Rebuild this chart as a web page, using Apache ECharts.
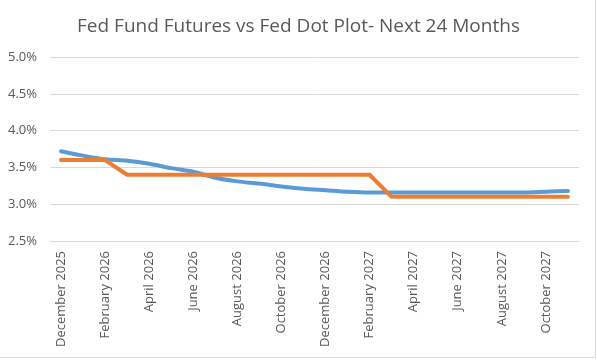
<!DOCTYPE html>
<html>
<head>
<meta charset="utf-8">
<script src="https://cdn.jsdelivr.net/npm/echarts@6/dist/echarts.min.js"></script>
<style>
html,body{margin:0;padding:0;background:#fff;}
#chart{width:597px;height:362px;}
</style>
</head>
<body>
<div id="chart"></div>
<script>
const titleText = 'Fed Fund Futures vs Fed Dot Plot- Next 24 Months';
const months = [
  'December 2025','January 2026','February 2026','March 2026','April 2026','May 2026',
  'June 2026','July 2026','August 2026','September 2026','October 2026','November 2026',
  'December 2026','January 2027','February 2027','March 2027','April 2027','May 2027',
  'June 2027','July 2027','August 2027','September 2027','October 2027','November 2027'
];
const fedFundFutures = [
  3.72, 3.66, 3.61, 3.59, 3.55, 3.49,
  3.44, 3.36, 3.31, 3.28, 3.24, 3.21,
  3.19, 3.17, 3.16, 3.16, 3.16, 3.16,
  3.16, 3.16, 3.16, 3.16, 3.17, 3.18
];
const fedDotPlot = [
  3.6, 3.6, 3.6, 3.4, 3.4, 3.4,
  3.4, 3.4, 3.4, 3.4, 3.4, 3.4,
  3.4, 3.4, 3.4, 3.1, 3.1, 3.1,
  3.1, 3.1, 3.1, 3.1, 3.1, 3.1
];
const yMin = 2.5, yMax = 5.0, yStep = 0.5;

const chart = echarts.init(document.getElementById('chart'), null, {renderer: 'canvas'});
const font = '"Open Sans", "Liberation Sans", sans-serif';
chart.setOption({
  animation: false,
  backgroundColor: '#ffffff',
  title: {
    text: titleText,
    left: 'center',
    top: 12,
    textStyle: {fontFamily: font, fontSize: 19, fontWeight: 'normal', color: '#595959'}
  },
  grid: {left: 50, right: 18, top: 57, bottom: 121, containLabel: false},
  xAxis: {
    type: 'category',
    data: months,
    boundaryGap: true,
    axisLine: {show: true, lineStyle: {color: '#d9d9d9', width: 1}},
    axisTick: {show: false},
    axisLabel: {
      interval: 1,
      rotate: 90,
      margin: 10,
      fontFamily: font,
      fontSize: 13,
      color: '#595959'
    }
  },
  yAxis: {
    type: 'value',
    min: yMin,
    max: yMax,
    interval: yStep,
    axisLine: {show: false},
    axisTick: {show: false},
    splitLine: {lineStyle: {color: '#d9d9d9', width: 1}},
    axisLabel: {
      margin: 13,
      fontFamily: font,
      fontSize: 13,
      color: '#595959',
      formatter: v => v.toFixed(1) + '%'
    }
  },
  series: [
    {
      name: 'Fed Fund Futures',
      type: 'line',
      data: fedFundFutures,
      smooth: 0.3,
      symbol: 'none',
      lineStyle: {color: '#5B9BD5', width: 4, cap: 'round'},
      z: 2
    },
    {
      name: 'Fed Dot Plot',
      type: 'line',
      data: fedDotPlot,
      symbol: 'none',
      lineStyle: {color: '#ED7D31', width: 4, cap: 'round'},
      z: 3
    }
  ],
  graphic: [
    {type: 'line', shape: {x1: 595.5, y1: 0, x2: 595.5, y2: 358}, style: {stroke: '#d9d9d9', lineWidth: 1}},
    {type: 'line', shape: {x1: 0, y1: 357.5, x2: 596, y2: 357.5}, style: {stroke: '#d9d9d9', lineWidth: 1}}
  ]
});
</script>
</body>
</html>
